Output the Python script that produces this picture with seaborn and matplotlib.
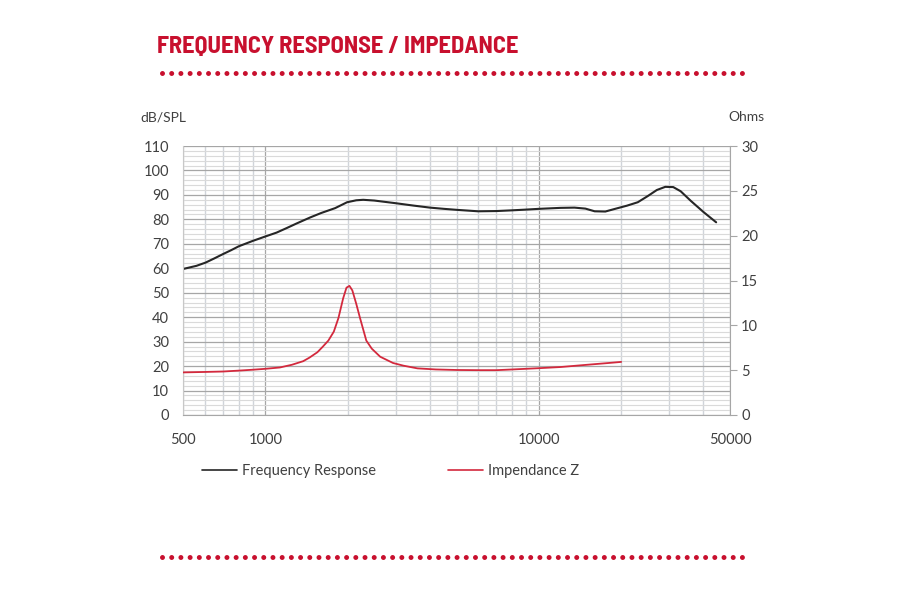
import numpy as np
import pandas as pd
import matplotlib
matplotlib.use("Agg")
import matplotlib.pyplot as plt
from matplotlib.lines import Line2D
from matplotlib.ticker import FixedLocator, NullFormatter
import seaborn as sns

# frequency response (dB/SPL)
fr_freq = [500, 560, 604, 650, 700, 750, 800, 900, 1000, 1100, 1200, 1300, 1460,
           1600, 1800, 1990, 2150, 2280, 2500, 3000, 3500, 4000, 4500, 5000, 6000,
           7000, 8000, 9000, 10000, 12000, 13500, 14800, 16000, 17500, 19000,
           21000, 23000, 25000, 27000, 29000, 31000, 33000, 36000, 40000, 44500]
fr_db = [59.7, 61.0, 62.3, 64.0, 65.8, 67.4, 69.0, 71.2, 73.0, 74.6, 76.5, 78.3, 80.8,
         82.6, 84.6, 87.0, 87.8, 88.0, 87.7, 86.6, 85.6, 84.8, 84.3, 83.9, 83.3,
         83.4, 83.7, 84.0, 84.3, 84.7, 84.8, 84.4, 83.3, 83.2, 84.3,
         85.6, 87.0, 89.5, 92.0, 93.3, 93.2, 91.5, 87.5, 83.0, 78.8]

# impedance (ohms)
z_freq = [500, 600, 700, 800, 900, 1000, 1130, 1250, 1375, 1450, 1550, 1620, 1700,
          1780, 1850, 1925, 1980, 2030, 2080, 2150, 2220, 2340, 2450, 2630, 2930,
          3200, 3600, 4200, 5000, 6000, 7000, 8000, 10000, 12000, 15000, 18000, 20000]
z_ohm = [4.75, 4.8, 4.85, 4.95, 5.05, 5.15, 5.3, 5.6, 6.0, 6.4, 7.0, 7.6, 8.3,
         9.3, 10.8, 13.0, 14.2, 14.4, 13.9, 12.4, 10.8, 8.3, 7.4, 6.5, 5.8,
         5.5, 5.2, 5.08, 5.02, 5.0, 5.0, 5.08, 5.22, 5.35, 5.6, 5.8, 5.92]

x_labels = [500, 1000, 10000, 50000]

RED = "#C8102E"
TXT = "#404040"

sns.set_style("white")
plt.rcParams['font.family'] = ['Lato', 'DejaVu Sans']

fig = plt.figure(figsize=(9, 6), dpi=100)
ax = fig.add_axes([183 / 900, 185 / 600, 547 / 900, 269 / 600])

fr = pd.DataFrame({"freq": fr_freq, "db": fr_db})
zz = pd.DataFrame({"freq": z_freq, "ohm": z_ohm})

sns.lineplot(data=fr, x="freq", y="db", ax=ax, color="#262626", lw=1.5,
             label="Frequency Response", legend=False)
ax.set_xscale("log")
ax.set_xlim(500, 50000)
ax.set_ylim(0, 110)

# grid
minor_x = [600, 700, 800, 900] + list(range(2000, 10000, 1000)) + [20000, 30000, 40000]
ax.xaxis.set_major_locator(FixedLocator(x_labels))
ax.xaxis.set_minor_locator(FixedLocator(minor_x))
ax.xaxis.set_minor_formatter(NullFormatter())
ax.set_xticklabels([str(v) for v in x_labels])
ax.yaxis.set_major_locator(FixedLocator(range(0, 111, 10)))
ax.yaxis.set_minor_locator(FixedLocator(range(0, 111, 2)))
ax.grid(which="major", axis="y", color="#A6A6A6", lw=0.9)
ax.grid(which="minor", axis="y", color="#DADADA", lw=0.8)
ax.grid(which="major", axis="x", color="#A6A6A6", lw=0.9)
ax.grid(which="minor", axis="x", color="#D0D4DA", lw=1.0)
ax.set_axisbelow(True)

for s in ["top", "right"]:
    ax.spines[s].set_visible(False)
ax.spines["left"].set_color("#C8C8C8")
ax.spines["bottom"].set_color("#A6A6A6")
ax.tick_params(axis="y", which="both", length=0, pad=10, labelsize=10.5, labelcolor=TXT)
ax.tick_params(axis="x", which="both", length=4, color="#BFBFBF", pad=9,
               labelsize=10.5, labelcolor=TXT)
ax.set_xlabel("")
ax.set_ylabel("")

ax2 = ax.twinx()
sns.lineplot(data=zz, x="freq", y="ohm", ax=ax2, color="#D3293D", lw=1.3,
             label="Impendance Z", legend=False)
ax2.set_ylim(0, 30)
ax2.set_yticks(range(0, 31, 5))
ax2.set_ylabel("")
for s in ["top", "left", "bottom"]:
    ax2.spines[s].set_visible(False)
ax2.spines["right"].set_color("#A6A6A6")
ax2.tick_params(axis="y", length=5, color="#A6A6A6", pad=3, labelsize=10.5, labelcolor=TXT)

fig.text(140 / 900, 1 - 117 / 600, "dB/SPL", fontsize=10, color=TXT, va="center")
fig.text(728 / 900, 1 - 117 / 600, "Ohms", fontsize=10, color=TXT, va="center")

# legend below plot
handles = [Line2D([], [], color="#262626", lw=1.2), Line2D([], [], color="#D3293D", lw=1.2)]
fig.legend(handles, ["Frequency Response", "Impendance Z"], loc="center left",
           bbox_to_anchor=(189 / 900, 1 - 471 / 600), ncol=2, frameon=False,
           fontsize=10.5, handlelength=2.4, handletextpad=0.35, columnspacing=4.9,
           labelcolor=TXT)

# title + dotted rules
fig.text(157 / 900, 1 - 47.5 / 600, "FREQUENCY RESPONSE / IMPEDANCE",
         family=["Barlow Semi Condensed", "Barlow Condensed", "Lato", "DejaVu Sans"],
         fontweight="bold", fontsize=17.6, color=RED, va="center")
for yy in [73, 557]:
    fig.add_artist(Line2D([162 / 900, 750 / 900], [1 - yy / 600] * 2,
                          transform=fig.transFigure, color=RED, lw=3.6,
                          dash_capstyle="round", dashes=(0.001, 1.84)))

fig.savefig("out.png", dpi=100)
